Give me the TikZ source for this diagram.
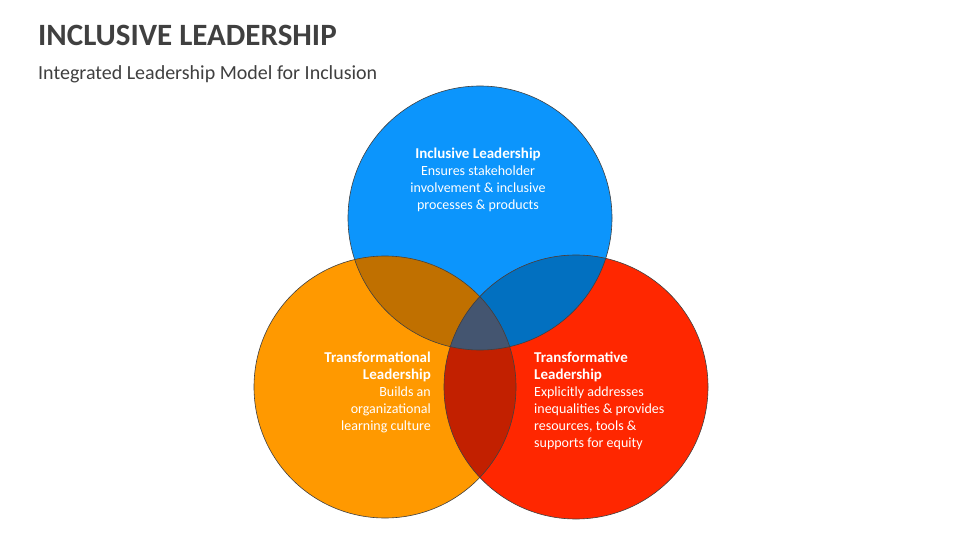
\documentclass[tikz,border=0pt]{standalone}
\usepackage{fontspec}
\setmainfont{Carlito}
\definecolor{cblue}{HTML}{0C95FC}
\definecolor{corange}{HTML}{FF9900}
\definecolor{cred}{HTML}{FF2700}
\definecolor{cbo}{HTML}{C07000}
\definecolor{cbr}{HTML}{0270C0}
\definecolor{cor}{HTML}{C22000}
\definecolor{cmid}{HTML}{445570}
\definecolor{ttl}{HTML}{404040}
\begin{document}
\begin{tikzpicture}[x=1pt,y=-1pt,
  circ/.style={draw=black!75,line width=0.6pt},
  txt/.style={text=white,font=\fontsize{14}{17}\selectfont,inner sep=0pt}]
\useasboundingbox (0,0) rectangle (960,540);
\path[fill=white] (0,0) rectangle (960,540);
\def\B{(480,218) circle (132)}
\def\O{(385,387) circle (131)}
\def\R{(576,387) circle (132)}
\fill[cblue] \B; \fill[corange] \O; \fill[cred] \R;
\begin{scope}\clip \B; \fill[cbo] \O; \fill[cbr] \R; \end{scope}
\begin{scope}\clip \O; \fill[cor] \R; \end{scope}
\begin{scope}\clip \B; \clip \O; \fill[cmid] \R; \end{scope}
\draw[circ] \B; \draw[circ] \O; \draw[circ] \R;
\node[anchor=west,text=ttl,font=\bfseries\fontsize{31}{36}\selectfont,inner sep=0pt] (title) at (38,35) {INCLUSIVE LEADERSHIP};
\node[anchor=west,text=ttl,font=\fontsize{20}{24}\selectfont,inner sep=0pt] (sub) at (38,74) {Integrated Leadership Model for Inclusion};
\node[txt,align=center,anchor=north] (tb) at (478,148) {\textbf{\fontsize{15}{18}\selectfont Inclusive Leadership}\\Ensures stakeholder\\involvement \& inclusive\\processes \& products};
\node[txt,align=right,anchor=north east] (lb) at (431,352) {\textbf{\fontsize{15}{20}\selectfont Transformational}\\\textbf{\fontsize{15}{20}\selectfont Leadership}\\Builds an\\organizational\\learning culture};
\node[txt,align=left,anchor=north west] (rb) at (534,352) {\textbf{\fontsize{15}{20}\selectfont Transformative}\\\textbf{\fontsize{15}{20}\selectfont Leadership}\\Explicitly addresses\\inequalities \& provides\\resources, tools \&\\supports for equity};
\end{tikzpicture}
\end{document}
